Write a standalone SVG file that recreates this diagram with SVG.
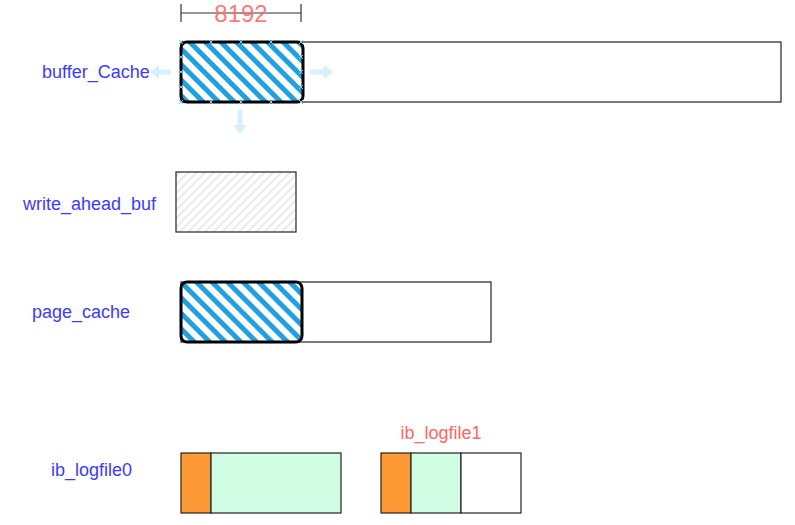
<svg xmlns="http://www.w3.org/2000/svg" width="795" height="525" viewBox="0 0 795 525">
<style>
.lbl{font-family:"Liberation Sans",Arial,sans-serif;font-size:18px;fill:#3b3bff}
.red{font-family:"Liberation Sans",Arial,sans-serif;fill:#ff6666}
.box{fill:#fff;stroke:#222;stroke-width:1.2}
.sel{fill:url(#blueHatch);stroke:#000;stroke-width:3}
.h{stroke:#7cc8ee;stroke-width:1}
.arr{fill:#d6efff}
</style>
<defs>
<pattern id="blueHatch" width="11" height="11" patternUnits="userSpaceOnUse" patternTransform="rotate(-45)">
<rect width="11" height="11" fill="#fff"/>
<line x1="5.5" y1="0" x2="5.5" y2="11" stroke="#1fa0e0" stroke-width="5"/>
</pattern>
<pattern id="grayHatch" width="6" height="6" patternUnits="userSpaceOnUse" patternTransform="rotate(45)">
<rect width="6" height="6" fill="#fff"/>
<line x1="3" y1="0" x2="3" y2="6" stroke="#dcdcdc" stroke-width="1.2"/>
</pattern>
<g id="hx"><path d="M-2,-2L2,2M-2,2L2,-2" class="h"/></g>
</defs>

<g id="dimension">
<path d="M181,4V22M301,4V22M181,13H301" stroke="#333" stroke-width="1.2" fill="none"/>
<text class="red" x="241" y="22" font-size="24" text-anchor="middle" fill-opacity="0.9">8192</text>
</g>

<g id="buffer_cache">
<text class="lbl" x="42" y="78">buffer_Cache</text>
<rect class="box" x="181" y="42" width="600" height="60"/>
<rect class="sel" x="181" y="42" width="122" height="60" rx="6"/>
<g>
<use href="#hx" x="181" y="42"/><use href="#hx" x="211" y="42"/><use href="#hx" x="241" y="42"/><use href="#hx" x="271" y="42"/><use href="#hx" x="301" y="42"/>
<use href="#hx" x="181" y="102"/><use href="#hx" x="211" y="102"/><use href="#hx" x="241" y="102"/><use href="#hx" x="271" y="102"/><use href="#hx" x="301" y="102"/>
<use href="#hx" x="181" y="57"/><use href="#hx" x="181" y="72"/><use href="#hx" x="181" y="87"/>
<use href="#hx" x="301" y="57"/><use href="#hx" x="301" y="72"/><use href="#hx" x="301" y="87"/>
</g>
<path class="arr" d="M150,72L159,65V69.5H171V74.5H159V79Z"/>
<path class="arr" d="M333,72L324,65V69.5H310V74.5H324V79Z"/>
<path class="arr" d="M240,134L233,125H237.5V110H242.5V125H247Z"/>
</g>

<g id="write_ahead_buf">
<text class="lbl" x="23" y="210">write_ahead_buf</text>
<rect x="176" y="172" width="120" height="60" fill="url(#grayHatch)" stroke="#222" stroke-width="1.2"/>
</g>

<g id="page_cache">
<text class="lbl" x="32" y="318">page_cache</text>
<rect class="box" x="181" y="282" width="310" height="60"/>
<rect class="sel" x="181" y="282" width="121" height="60" rx="6"/>
</g>

<g id="ib_logfile0">
<text class="lbl" x="51" y="476">ib_logfile0</text>
<rect x="181" y="453" width="30" height="60" fill="#fd9a35" stroke="#222" stroke-width="1.2"/>
<rect x="211" y="453" width="130" height="60" fill="#cffce3" stroke="#222" stroke-width="1.2"/>
</g>

<g id="ib_logfile1">
<text class="red" x="441" y="439" font-size="18" text-anchor="middle">ib_logfile1</text>
<rect x="381" y="453" width="30" height="60" fill="#fd9a35" stroke="#222" stroke-width="1.2"/>
<rect x="411" y="453" width="50" height="60" fill="#cffce3" stroke="#222" stroke-width="1.2"/>
<rect x="461" y="453" width="60" height="60" fill="#fff" stroke="#222" stroke-width="1.2"/>
</g>
</svg>
